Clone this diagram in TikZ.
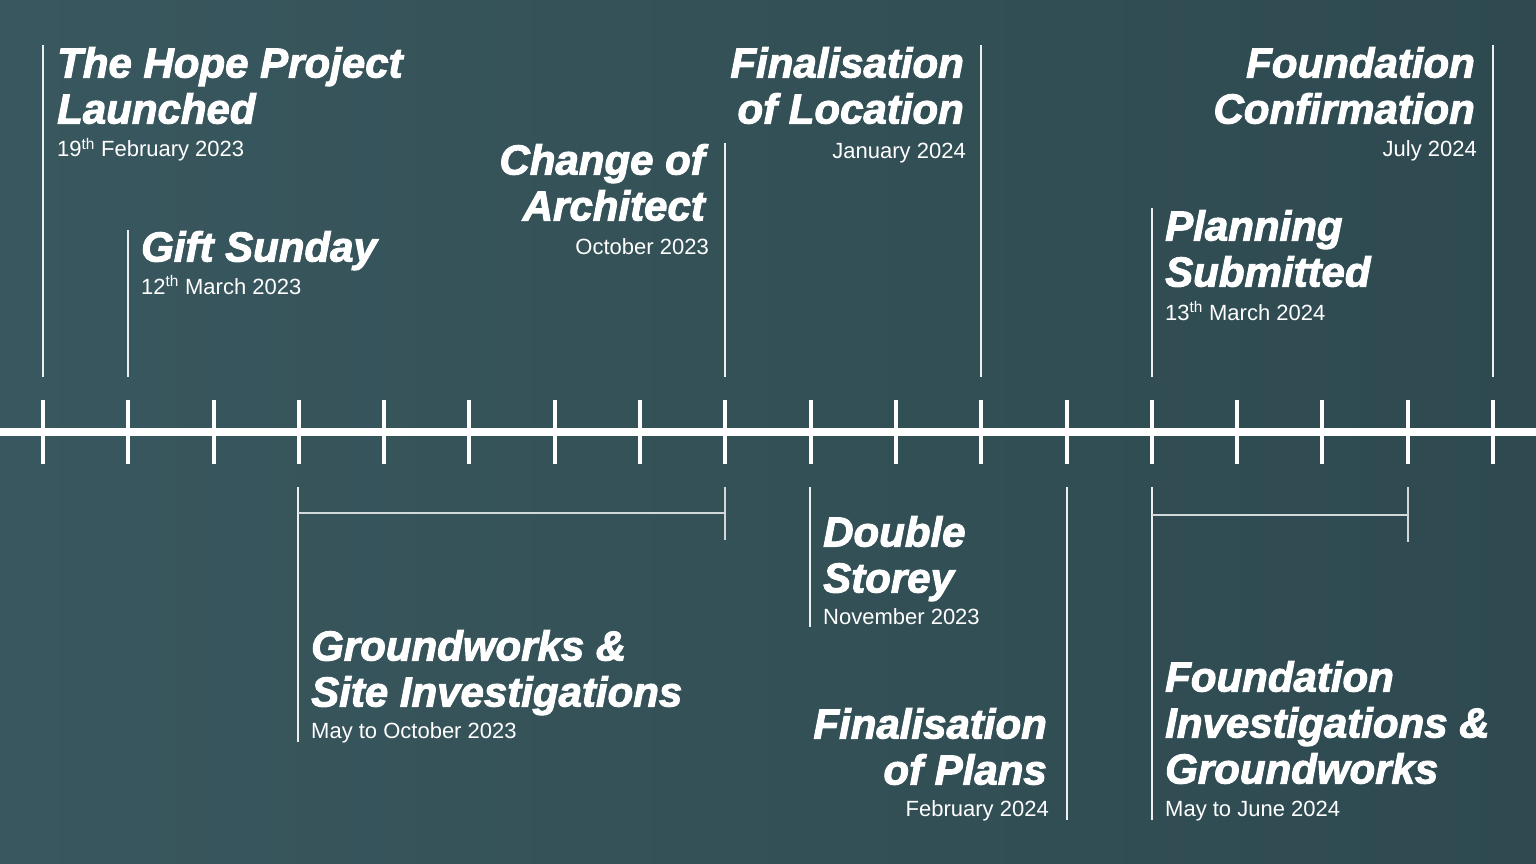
\documentclass[tikz,border=0pt]{standalone}
\usepackage{fontspec}
\setmainfont{Liberation Sans}
\newfontfamily\headfont[FakeBold=2.4]{Liberation Sans Bold Italic}
\usetikzlibrary{positioning}

\definecolor{slateL}{RGB}{57,87,94}
\definecolor{slateR}{RGB}{46,74,80}
\definecolor{rule}{RGB}{238,240,240}

\begin{document}
\begin{tikzpicture}[
    x=1pt, y=-1pt,
    heading/.style={font=\headfont\fontsize{42}{46}\selectfont, text=white, inner sep=0pt},
    when/.style={font=\fontsize{22}{24}\selectfont, text=white, inner sep=0pt},
    stem/.style={draw=rule, line width=2.5pt},
    bracket/.style={draw=rule!85!slateL, line width=2pt},
    tickmark/.style={draw=white, line width=4pt}
]

% Background
\shade[left color=slateL, right color=slateR] (0,0) rectangle (1536,864);
\useasboundingbox (0,0) rectangle (1536,864);

% Axis with ticks
\coordinate (axisL) at (0,432);
\coordinate (axisR) at (1536,432);
\draw[white, line width=7.5pt] (axisL) -- (axisR);
\foreach \i in {0,...,17} {
  \coordinate (t\i) at (43+85.294*\i,432);
  \draw[tickmark] ([yshift=32pt]t\i) -- ([yshift=-32pt]t\i);
}
\coordinate (upper) at (0,377);
\coordinate (lower) at (0,487);

% Upper milestones (title anchored at its last baseline)
\coordinate (hope) at (43,45);
\draw[stem] (hope) -- (hope |- upper);
\node[heading, align=left, anchor=base west] (hopeT) at (57,123.5) {The Hope Project\\Launched};
\node[when, anchor=base west] (hopeD) at (57,157) {19\textsuperscript{th} February 2023};

\coordinate (gift) at (128,230);
\draw[stem] (gift) -- (gift |- upper);
\node[heading, align=left, anchor=base west] (giftT) at (141,261.5) {Gift Sunday};
\node[when, anchor=base west] (giftD) at (141,294) {12\textsuperscript{th} March 2023};

\coordinate (arch) at (725,143);
\draw[stem] (arch) -- (arch |- upper);
\node[heading, align=right, anchor=base east] (archT) at (705,220.5) {Change of\\Architect};
\node[when, anchor=base east] (archD) at (709,254) {October 2023};

\coordinate (loc) at (981,45);
\draw[stem] (loc) -- (loc |- upper);
\node[heading, align=right, anchor=base east] (locT) at (964,123.5) {Finalisation\\of Location};
\node[when, anchor=base east] (locD) at (966,158) {January 2024};

\coordinate (conf) at (1493,45);
\draw[stem] (conf) -- (conf |- upper);
\node[heading, align=right, anchor=base east] (confT) at (1475,123.5) {Foundation\\Confirmation};
\node[when, anchor=base east] (confD) at (1477,157) {July 2024};

\coordinate (plan) at (1152,208);
\draw[stem] (plan) -- (plan |- upper);
\node[heading, align=left, anchor=base west] (planT) at (1165,286.5) {Planning\\Submitted};
\node[when, anchor=base west] (planD) at (1165,320) {13\textsuperscript{th} March 2024};

% Lower milestones
\coordinate (ground) at (298,742);
\coordinate (groundBar) at (298,513);
\coordinate (groundEnd) at (725,540);
\draw[stem] (ground |- lower) -- (ground);
\draw[bracket] (groundBar) -- (groundBar -| groundEnd);
\draw[bracket] (groundEnd |- lower) -- (groundEnd);
\node[heading, align=left, anchor=base west] (groundT) at (311,706.5) {Groundworks \&\\Site Investigations};
\node[when, anchor=base west] (groundD) at (311,738) {May to October 2023};

\coordinate (storey) at (810,627);
\draw[stem] (storey |- lower) -- (storey);
\node[heading, align=left, anchor=base west] (storeyT) at (823,592.5) {Double\\Storey};
\node[when, anchor=base west] (storeyD) at (823,624) {November 2023};

\coordinate (plans) at (1067,820);
\draw[stem] (plans |- lower) -- (plans);
\node[heading, align=right, anchor=base east] (plansT) at (1047,784.5) {Finalisation\\of Plans};
\node[when, anchor=base east] (plansD) at (1049,816) {February 2024};

\coordinate (found) at (1152,820);
\coordinate (foundBar) at (1152,515);
\coordinate (foundEnd) at (1408,542);
\draw[stem] (found |- lower) -- (found);
\draw[bracket] (foundBar) -- (foundBar -| foundEnd);
\draw[bracket] (foundEnd |- lower) -- (foundEnd);
\node[heading, align=left, anchor=base west] (foundT) at (1165,783.5) {Foundation\\Investigations \&\\Groundworks};
\node[when, anchor=base west] (foundD) at (1165,816) {May to June 2024};

\end{tikzpicture}
\end{document}
